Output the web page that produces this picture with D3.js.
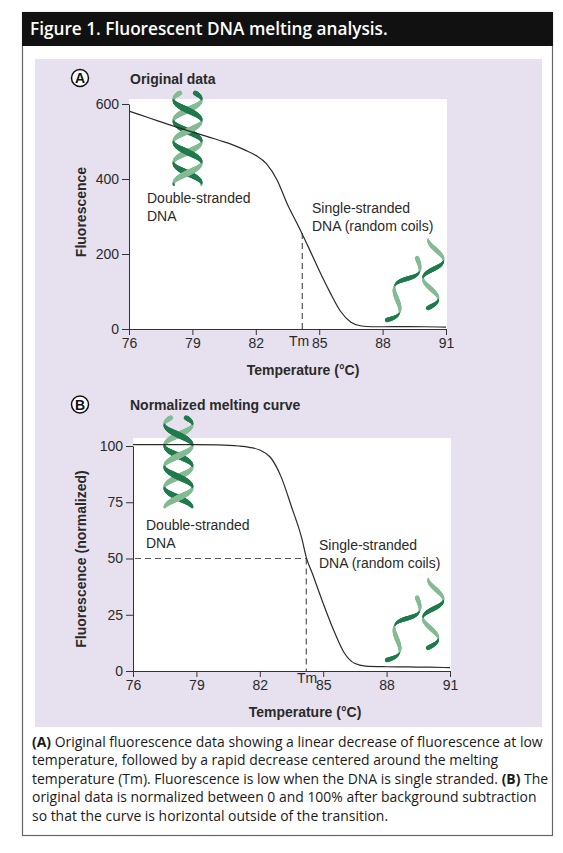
<!DOCTYPE html>
<html>
<head>
<meta charset="utf-8">
<script src="https://cdn.jsdelivr.net/npm/d3@7"></script>
<style>
  body { margin: 0; background: #fff; }
  svg { display: block; }
</style>
</head>
<body>
<svg id="fig" width="563" height="853"></svg>
<script>
// Melting curve data
const tempsRaw = [76, 77, 78, 79, 80, 80.5, 81, 81.5, 82, 82.5, 83, 83.5, 84, 84.5, 85, 85.5, 86, 86.5, 87, 87.5, 88, 89, 90, 91];
const fluorRaw = [581, 562, 543, 525, 508, 499, 489, 477, 463, 441, 398, 332, 276, 217, 156, 99, 48, 18, 8, 6, 6, 6.5, 6, 5];

const tempsNorm = [76, 77, 78, 79, 80, 81, 81.5, 82, 82.5, 83, 83.5, 84, 84.2, 84.5, 85, 85.5, 86, 86.5, 87, 88, 89, 90, 91];
const fluorNorm = [100.6, 100.6, 100.6, 100.6, 100.5, 100.0, 99.4, 98.2, 95, 86.5, 73, 58.5, 50.5, 43, 30, 18, 8, 3.3, 2.2, 1.9, 1.8, 1.7, 1.5];

const xTicks = [76, 79, 82, 85, 88, 91];
const rawTicks = [0, 200, 400, 600];
const normTicks = [0, 25, 50, 75, 100];

const tm = 84.2;        // melting temperature
const tmFluorRaw = 256; // where the dashed Tm line meets curve A
const tmFluorNorm = 50;

const captionLines = [
  [['(A)', true], [' Original fluorescence data showing a linear decrease of fluorescence at low', false]],
  [['temperature, followed by a rapid decrease centered around the melting', false]],
  [['temperature (Tm). Fluorescence is low when the DNA is single stranded. ', false], ['(B)', true], [' The', false]],
  [['original data is normalized between 0 and 100% after background subtraction', false]],
  [['so that the curve is horizontal outside of the transition.', false]]
];

const svg = d3.select('#fig');
const chartFont = '"Liberation Sans", Arial, Helvetica, sans-serif';
const textColor = '#2a2a2a';
const darkGreen = '#1f7a4c';
const lightGreen = '#84bb93';

// Frame, header and panel background
svg.append('rect')
  .attr('x', 22.5).attr('y', 12.5).attr('width', 530).attr('height', 823)
  .attr('fill', '#fff').attr('stroke', '#666').attr('stroke-width', 1.2);
svg.append('rect')
  .attr('x', 22).attr('y', 12).attr('width', 531).attr('height', 34)
  .attr('fill', '#111');
svg.append('rect')
  .attr('x', 35).attr('y', 59).attr('width', 507).attr('height', 668)
  .attr('fill', '#e7e1ef');

const title = svg.append('text')
  .attr('x', 0).attr('y', 0)
  .attr('font-family', '"Open Sans", "Noto Sans", sans-serif')
  .attr('font-size', 17.5)
  .attr('font-weight', 600)
  .attr('fill', '#fff')
  .text('Figure 1. Fluorescent DNA melting analysis.');
const titleW = title.node().getComputedTextLength();
title.attr('transform', `translate(30,35) scale(${358 / titleW},1)`);

// Draws a ribbon-like strand; f(t) gives the point and the depth angle
function ribbon(g, f, n, wMin, wMax) {
  const pts = d3.range(n + 1).map(i => f(i / n));
  const segs = [];
  for (let i = 0; i < n; i++) {
    const a = pts[i], b = pts[i + 1];
    const c = Math.cos((a.th + b.th) / 2);
    segs.push({ a, b, c });
  }
  // back pieces first, front pieces on top
  segs.sort((s1, s2) => s1.c - s2.c);
  g.selectAll(null)
    .data(segs)
    .enter()
    .append('line')
    .attr('x1', d => d.a.x).attr('y1', d => d.a.y)
    .attr('x2', d => d.b.x).attr('y2', d => d.b.y)
    .attr('stroke', d => d.c > 0 ? darkGreen : lightGreen)
    .attr('stroke-width', d => wMin + (wMax - wMin) * Math.abs(d.c))
    .attr('stroke-linecap', 'round');
}

function doubleHelix(g, cx, yTop, yBot, amp, period) {
  [0, Math.PI].forEach(phase => {
    ribbon(g, t => {
      const y = yTop + (yBot - yTop) * t;
      const th = 2 * Math.PI * (y - yTop) / period + phase + 0.6;
      return { x: cx + amp * Math.sin(th), y, th };
    }, 140, 1.4, 6);
  });
}

function singleStrand(g, p0, p1, amp, cycles) {
  const dx = p1[0] - p0[0], dy = p1[1] - p0[1];
  const len = Math.hypot(dx, dy);
  const nx = -dy / len, ny = dx / len;
  ribbon(g, t => {
    const th = 2 * Math.PI * cycles * t;
    const off = amp * Math.sin(th);
    return { x: p0[0] + dx * t + nx * off, y: p0[1] + dy * t + ny * off, th };
  }, 90, 1.2, 4.5);
}

function circledLetter(cx, cy, letter) {
  svg.append('circle')
    .attr('cx', cx).attr('cy', cy).attr('r', 8.5)
    .attr('fill', '#fff').attr('stroke', '#111').attr('stroke-width', 1.5);
  svg.append('text')
    .attr('x', cx).attr('y', cy + 5)
    .attr('text-anchor', 'middle')
    .attr('font-family', chartFont).attr('font-weight', 'bold').attr('font-size', 14)
    .attr('fill', '#111')
    .text(letter);
}

function label(x, y, lines, opts = {}) {
  const t = svg.append('text')
    .attr('font-family', chartFont)
    .attr('font-size', opts.size || 14)
    .attr('font-weight', opts.bold ? 'bold' : 'normal')
    .attr('fill', textColor)
    .attr('text-anchor', opts.anchor || 'start');
  if (opts.rotate) {
    t.attr('transform', `translate(${x},${y}) rotate(-90)`);
    x = 0; y = 0;
  }
  lines.forEach((s, i) => {
    t.append('tspan').attr('x', x).attr('y', y + i * 17.5).text(s);
  });
  return t;
}

function panel(cfg) {
  const { x, y, temps, values, yTicks, yTop, tmY } = cfg;
  const g = svg.append('g');

  // white plot area
  g.append('rect')
    .attr('x', x(76)).attr('y', y(yTop))
    .attr('width', x(91) - x(76) + 1).attr('height', y(0) - y(yTop))
    .attr('fill', '#fff');

  // decorations behind the curve
  const deco = g.append('g');
  doubleHelix(deco, x(cfg.helix.t), y(cfg.helix.top), y(cfg.helix.bot), 14, 42);
  cfg.strands.forEach(s => {
    singleStrand(deco, [x(s.p0[0]), y(s.p0[1])], [x(s.p1[0]), y(s.p1[1])], s.amp, s.cycles);
  });

  // dashed Tm guides
  const dash = g.append('g')
    .attr('stroke', '#555').attr('stroke-width', 1.2).attr('stroke-dasharray', '6,4').attr('fill', 'none');
  dash.append('line')
    .attr('x1', x(tm)).attr('x2', x(tm))
    .attr('y1', y(tmY)).attr('y2', y(0));
  if (cfg.horizontalGuide) {
    dash.append('line')
      .attr('x1', x(76) + 2).attr('x2', x(tm))
      .attr('y1', y(tmY)).attr('y2', y(tmY));
  }

  // melting curve
  const line = d3.line()
    .x((d, i) => x(temps[i]))
    .y(d => y(d))
    .curve(d3.curveMonotoneX);
  g.append('path')
    .datum(values)
    .attr('d', line)
    .attr('fill', 'none')
    .attr('stroke', '#2a2a2a')
    .attr('stroke-width', 1.2);

  // axes
  const xAxis = g.append('g')
    .attr('transform', `translate(0,${y(0)})`)
    .call(d3.axisBottom(x).tickValues(xTicks).tickSize(6).tickSizeOuter(0).tickPadding(3));
  const yAxis = g.append('g')
    .attr('transform', `translate(${x(76)},0)`)
    .call(d3.axisLeft(y).tickValues(yTicks).tickSize(7).tickSizeOuter(0).tickPadding(3));
  [xAxis, yAxis].forEach(a => {
    a.attr('font-family', chartFont).attr('font-size', 14);
    a.selectAll('text').attr('fill', textColor);
    a.selectAll('line, path').attr('stroke', '#333');
  });
  return g;
}

// Panel A: original data
const xA = d3.scaleLinear().domain([76, 91]).range([129, 446]);
const yA = d3.scaleLinear().domain([0, 600]).range([329, 104]);
panel({
  x: xA, y: yA, temps: tempsRaw, values: fluorRaw, yTicks: rawTicks, yTop: 613,
  tmY: tmFluorRaw, horizontalGuide: false,
  helix: { t: 78.77, top: 629, bot: 384 },
  strands: [
    { p0: [88.21, 24], p1: [89.63, 189], amp: 8, cycles: 1.5 },
    { p0: [90.15, 56], p1: [90.58, 237], amp: 9, cycles: 1.75 }
  ]
});
circledLetter(80, 78, 'A');
label(130, 84, ['Original data'], { bold: true });
label(147, 203, ['Double-stranded', 'DNA']);
label(312, 213, ['Single-stranded', 'DNA (random coils)']);
label(299, 346, ['Tm'], { anchor: 'middle', size: 14 });
label(303, 375, ['Temperature (°C)'], { bold: true, anchor: 'middle' });
label(86, 212, ['Fluorescence'], { bold: true, anchor: 'middle', rotate: true });

// Panel B: normalized melting curve
const xB = d3.scaleLinear().domain([76, 91]).range([133, 450]);
const yB = d3.scaleLinear().domain([0, 100]).range([671, 446]);
panel({
  x: xB, y: yB, temps: tempsNorm, values: fluorNorm, yTicks: normTicks, yTop: 103.5,
  tmY: tmFluorNorm, horizontalGuide: true,
  helix: { t: 78.15, top: 112.5, bot: 72.8 },
  strands: [
    { p0: [88.02, 4.9], p1: [89.44, 32.6], amp: 8, cycles: 1.5 },
    { p0: [89.96, 10.3], p1: [90.39, 40.6], amp: 9, cycles: 1.75 }
  ]
});
circledLetter(80, 404.5, 'B');
label(130, 410, ['Normalized melting curve'], { bold: true });
label(146, 530, ['Double-stranded', 'DNA']);
label(319, 550, ['Single-stranded', 'DNA (random coils)']);
label(307, 683, ['Tm'], { anchor: 'middle', size: 14 });
label(305, 717, ['Temperature (°C)'], { bold: true, anchor: 'middle' });
label(86, 559, ['Fluorescence (normalized)'], { bold: true, anchor: 'middle', rotate: true });

// Caption
const cap = svg.append('g');
captionLines.forEach((parts, i) => {
  const t = cap.append('text')
    .attr('x', 0).attr('y', i * 18.5)
    .attr('font-family', '"Open Sans", "Noto Sans", sans-serif')
    .attr('font-size', 14.5)
    .attr('fill', '#1a1a1a');
  parts.forEach(([s, bold]) => {
    t.append('tspan').attr('font-weight', bold ? 'bold' : 'normal').text(s);
  });
});
const capW = cap.select('text').node().getComputedTextLength();
cap.attr('transform', `translate(32,747) scale(${511 / capW},1)`);
</script>
</body>
</html>
